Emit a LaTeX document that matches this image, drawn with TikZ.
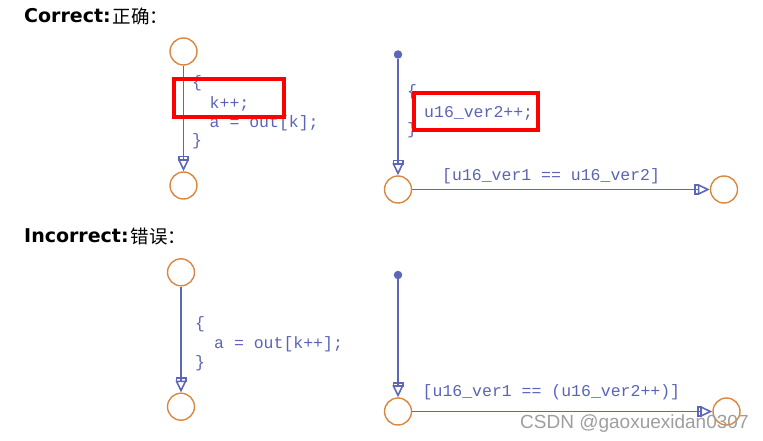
\documentclass[tikz,border=0pt]{standalone}
\usepackage{fontspec}
\setmainfont{DejaVu Sans}
\newfontfamily\titlefont{DejaVu Sans}
\newfontfamily\cjk{Noto Sans CJK SC}
\newfontfamily\codefont{Liberation Mono}
\newfontfamily\wmfont{Liberation Sans}
\usetikzlibrary{arrows.meta}
\definecolor{stateor}{HTML}{D9873E}
\definecolor{transbl}{HTML}{5E66B8}
\definecolor{codebl}{HTML}{5A64B6}
\definecolor{hlred}{HTML}{FF0000}
\tikzset{
  statec/.style={circle,draw=stateor,line width=1.4pt,minimum size=27pt,inner sep=0pt},
  defdot/.style={circle,fill=transbl,minimum size=8.5pt,inner sep=0pt},
  trans/.style={draw=transbl,line width=1.6pt,
     -{Rectangle[open,length=5pt,width=11pt,sep=-1.6pt]Triangle[open,length=12pt,width=11pt]}},
  codetxt/.style={anchor=base west,inner sep=0pt,text=codebl,font=\fontsize{16.5}{18}\selectfont\codefont},
  titletxt/.style={anchor=base west,inner sep=0pt,font=\fontsize{19}{22}\selectfont\titlefont\bfseries},
  cjktxt/.style={anchor=base west,inner sep=0pt,font=\fontsize{18.5}{21}\selectfont\cjk},
  hlbox/.style={draw=hlred,line width=4pt},
  wmtxt/.style={anchor=base west,inner sep=0pt,text=black!38,font=\fontsize{19}{22}\selectfont\wmfont}
}
\begin{document}
\begin{tikzpicture}[x=1pt,y=-1pt]
\useasboundingbox (0,0) rectangle (763,441);
% titles
\node[titletxt] (t1) at (24,23) {Correct:};
\node[cjktxt,xshift=1.5pt,yshift=-1pt] (t1c) at (t1.base east) {正确：};
\node[titletxt] (t2) at (24,242.5) {Incorrect:};
\node[cjktxt,xshift=1.5pt,yshift=-1pt] (t2c) at (t2.base east) {错误：};
% ---- top left
\node[statec] (a1) at (183.5,51.5) {};
\node[statec] (a2) at (183.5,185.5) {};
\draw[trans] (a1) -- (a2);
\node[codetxt] (ab1) at (192,87.7) {\{};
\node[codetxt] (ak) at (209.5,108.5) {k++;};
\node[codetxt] (aa) at (209.5,128) {a = out[k];};
\node[codetxt] (ab2) at (192,145.7) {\}};
\draw[hlbox] (174,79) rectangle (283.7,117);
% ---- top right
\node[defdot] (bd) at (398,54.5) {};
\node[statec] (b1) at (398,189.5) {};
\node[statec] (b2) at (724,189.5) {};
\draw[trans] (bd) -- (b1);
\draw[trans] (b1) -- (b2);
\node[codetxt] (bb1) at (407,97) {\{};
\node[codetxt] (bu) at (424,118) {u16\_ver2++;};
\node[codetxt] (bb2) at (407,135) {\}};
\node[codetxt] (bl) at (442,180) {[u16\_ver1 == u16\_ver2]};
\draw[hlbox] (414,93) rectangle (538,130);
% ---- bottom left
\node[statec] (c1) at (181,272.3) {};
\node[statec] (c2) at (181,406.7) {};
\draw[trans] (c1) -- (c2);
\node[codetxt] (cb1) at (195,328.5) {\{};
\node[codetxt] (ca) at (214,348) {a = out[k++];};
\node[codetxt] (cb2) at (195,367) {\}};
% ---- bottom right
\node[defdot] (dd) at (398,275) {};
\node[statec] (d1) at (398,411.5) {};
\node[statec] (d2) at (726.5,411.5) {};
\draw[trans] (dd) -- (d1);
\draw[trans] (d1) -- (d2);
\node[codetxt] (dl) at (422.5,396) {[u16\_ver1 == (u16\_ver2++)]};
% watermark
\node[wmtxt] (wm) at (520,428) {CSDN @gaoxuexidan0307};
\end{tikzpicture}
\end{document}
